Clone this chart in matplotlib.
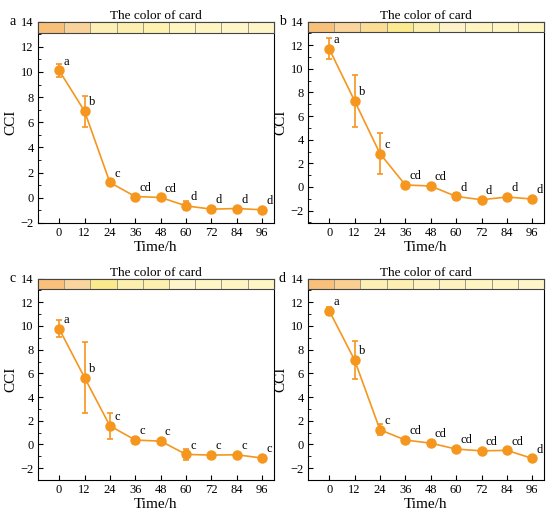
import matplotlib
matplotlib.use("Agg")
import matplotlib.pyplot as plt
from matplotlib.patches import Rectangle
from matplotlib.ticker import MultipleLocator
import matplotlib.transforms as mtransforms

plt.rcParams["font.family"] = ["Liberation Serif", "DejaVu Serif"]

time_h = [0, 12, 24, 36, 48, 60, 72, 84, 96]

cci_a = [10.12, 6.89, 1.22, 0.10, 0.03, -0.64, -0.90, -0.85, -0.95]
err_a = [0.48, 1.23, 0.20, 0.08, 0.06, 0.35, 0.08, 0.08, 0.06]
sig_a = ["a", "b", "c", "cd", "cd", "d", "d", "d", "d"]

cci_b = [11.70, 7.30, 2.83, 0.17, 0.08, -0.80, -1.08, -0.85, -1.02]
err_b = [0.88, 2.20, 1.74, 0.08, 0.06, 0.33, 0.08, 0.08, 0.06]
sig_b = ["a", "b", "c", "cd", "cd", "d", "d", "d", "d"]

cci_c = [9.77, 5.65, 1.57, 0.37, 0.28, -0.84, -0.90, -0.87, -1.15]
err_c = [0.70, 2.98, 1.10, 0.30, 0.08, 0.45, 0.10, 0.10, 0.06]
sig_c = ["a", "b", "c", "c", "c", "c", "c", "c", "c"]

cci_d = [11.30, 7.13, 1.24, 0.37, 0.11, -0.39, -0.54, -0.50, -1.18]
err_d = [0.33, 1.63, 0.48, 0.15, 0.06, 0.15, 0.08, 0.15, 0.06]
sig_d = ["a", "b", "c", "cd", "cd", "cd", "cd", "cd", "d"]

card_a = ["#F8BF78", "#F9D29A", "#FDF0B5", "#FDF0AF", "#FDF2AE",
          "#FEF5C0", "#FEF5C2", "#FEF6C8", "#FEF6C8"]
card_b = ["#F8C17A", "#F9D49B", "#FBDD93", "#FCEB8E", "#FDF0AE",
          "#FDF3CB", "#FEF5C2", "#FEF6C5", "#FEF6C2"]
card_c = ["#F8C07A", "#F9D49C", "#FBEA8C", "#FDF0AE", "#FDF0AE",
          "#FEF6CA", "#FEF6C5", "#FEF5C2", "#FEF6C5"]
card_d = ["#F8C07A", "#F9CF92", "#FDF0B5", "#FDF0B2", "#FEF3C0",
          "#FEF3C0", "#FEF5C2", "#FEF5C2", "#FEF6C8"]

panels = [
    ("a", cci_a, err_a, sig_a, card_a, -2.0, [0.069, 0.567]),
    ("b", cci_b, err_b, sig_b, card_b, -3.05, [0.560, 0.567]),
    ("c", cci_c, err_c, sig_c, card_c, -3.0, [0.069, 0.068]),
    ("d", cci_d, err_d, sig_d, card_d, -3.0, [0.560, 0.068]),
]

ORANGE = "#F5961E"

fig = plt.figure(figsize=(5.5, 5.15), dpi=100)

for tag, vals, errs, sigs, card, ybot, (left, bottom) in panels:
    ax = fig.add_axes([left, bottom, 0.429, 0.391])
    ax.errorbar(time_h, vals, yerr=errs, color=ORANGE, marker="o", markersize=6.5,
                linewidth=1.2, elinewidth=1.2, capsize=2.5, capthick=1.2, zorder=3)
    for x, y, s in zip(time_h, vals, sigs):
        ax.annotate(s, (x, y), xytext=(3, 2), textcoords="offset points",
                    fontsize=9, ha="left", va="bottom")

    ax.set_xlim(-10, 101.5)
    ax.set_ylim(ybot, 14)
    ax.set_xticks(time_h)
    ax.set_yticks(range(-2, 15, 2))
    ax.yaxis.set_minor_locator(MultipleLocator(1))
    ax.tick_params(direction="in", length=3.5, width=0.8, labelsize=9, pad=3)
    ax.tick_params(which="minor", direction="in", length=2, width=0.6)
    ax.set_xlabel("Time/h", fontsize=11, labelpad=1)
    ax.set_ylabel("CCI", fontsize=11, labelpad=2)
    for sp in ax.spines.values():
        sp.set_linewidth(0.8)

    # colour card strip across the top of the axes
    trans = mtransforms.blended_transform_factory(ax.transAxes, ax.transData)
    n = len(card)
    for i, c in enumerate(card):
        ax.add_patch(Rectangle((i / n, 13.1), 1 / n, 0.9, transform=trans,
                               facecolor=c, edgecolor="#9A9A8A", linewidth=0.7,
                               clip_on=False, zorder=4))
    ax.add_patch(Rectangle((0, 13.1), 1, 0.9, transform=trans, facecolor="none",
                           edgecolor="#444444", linewidth=0.8, clip_on=False, zorder=5))

    ax.set_title("The color of card", fontsize=9.5, pad=2)
    ax.text(-0.095, 1.0, tag, transform=ax.transAxes, fontsize=10,
            ha="right", va="center")

fig.savefig("out.png", dpi=100)
